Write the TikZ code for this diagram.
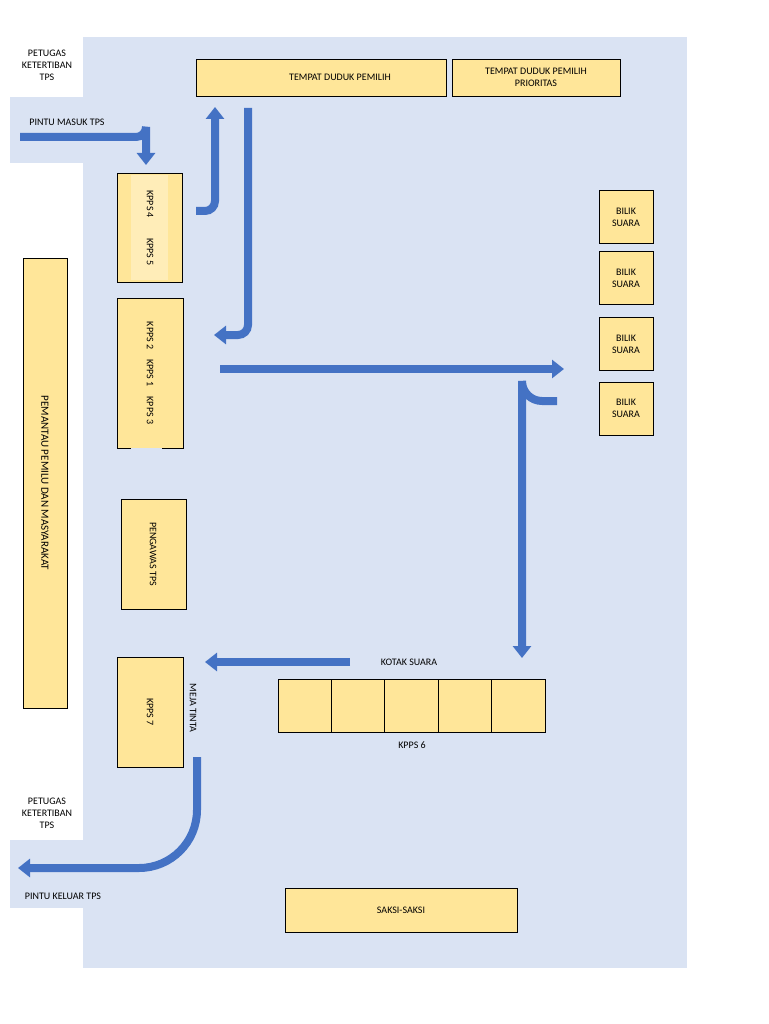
\documentclass[tikz,border=0pt]{standalone}
\usepackage{fontspec}
\setmainfont{Carlito}
\usetikzlibrary{arrows.meta}
\definecolor{bgb}{HTML}{DAE3F3}
\definecolor{boxy}{HTML}{FFE699}
\definecolor{arr}{HTML}{4472C4}
\begin{document}
\begin{tikzpicture}[x=1pt,y=-1pt,
 box/.style={draw=black,fill=boxy,line width=0.8pt},
 lbl/.style={font=\fontsize{10}{12}\selectfont,align=center},
 blu/.style={line width=8pt,color=arr,-{Triangle[length=12pt,width=18pt]}},
 vt/.style={lbl,rotate=-90}]
\useasboundingbox (0,0) rectangle (768,1024);
\fill[white] (0,0) rectangle (768,1024);
\fill[bgb] (83,37) rectangle (687,968);
\fill[bgb] (10,97) rectangle (83,163);
\fill[bgb] (10,840) rectangle (83,908);
% boxes
\node[box,minimum width=250pt,minimum height=37pt] (tdp) at (321,77.5) {};
\node[lbl] at (340,77) {TEMPAT DUDUK PEMILIH};
\node[box,minimum width=168pt,minimum height=37pt,lbl] (tdpp) at (536,77.5) {TEMPAT DUDUK PEMILIH\\PRIORITAS};
\node[box,minimum width=65pt,minimum height=109pt] (k45) at (149.5,227.5) {};
\fill[boxy!70!white] (131,175) rectangle (168,280);
\node[vt] at (150,228) {KPPS 4\qquad KPPS 5};
\node[box,minimum width=66pt,minimum height=150pt] (k213) at (150,373) {};
\fill[bgb] (131,448) rectangle (162,466);
\node[vt] at (150,373) {KPPS 2\quad KPPS 1\quad KPPS 3};
\fill[bgb] (131,490) rectangle (162,499);
\node[box,minimum width=65pt,minimum height=110pt] (pw) at (153.5,554) {};
\node[vt] at (153,554) {PENGAWAS TPS};
\node[box,minimum width=66pt,minimum height=110pt] (k7) at (150,712) {};
\node[vt] at (150,712) {KPPS 7};
\fill[bgb] (184,660) rectangle (202,757);
\node[vt] (mt) at (193,708) {MEJA TINTA};
\node[box,minimum width=44pt,minimum height=450pt] (pm) at (45,483) {};
\node[vt,font=\fontsize{11}{13}\selectfont] at (45,483) {PEMANTAU PEMILU DAN MASYARAKAT};
\foreach \y/\n in {217/b1,278/b2,344/b3,408.5/b4}
  \node[box,minimum width=54pt,minimum height=53pt,lbl] (\n) at (626,\y) {BILIK\\SUARA};
\foreach \i in {0,...,4}
  \node[box,minimum width=53.4pt,minimum height=53pt] (c\i) at (304.7+53.4*\i,705.5) {};
\node[box,minimum width=232pt,minimum height=44pt,lbl] (sk) at (401,910) {SAKSI-SAKSI};
% labels
\node[lbl] (pt1) at (47,65) {PETUGAS\\KETERTIBAN\\TPS};
\node[lbl] (pm1) at (67,122) {PINTU MASUK TPS};
\node[lbl] (ks) at (409,662) {KOTAK SUARA};
\node[lbl] (k6) at (412,745) {KPPS 6};
\node[lbl] (pt2) at (47,813) {PETUGAS\\KETERTIBAN\\TPS};
\node[lbl] (pk) at (63,896) {PINTU KELUAR TPS};
% arrows
\draw[blu] (20,137) -- (136,137) arc[start angle=90,end angle=0,radius=10] -- (146,165);
\draw[blu] (196,211) -- (205,211) arc[start angle=90,end angle=0,radius=10] -- (215,107);
\draw[blu] (248,108) -- (248,325) arc[start angle=0,end angle=90,radius=10] -- (214,335);
\draw[blu] (220,369) -- (564,369);
\draw[blu] (557,401) -- (542,401) arc[start angle=90,end angle=180,radius=20] -- (522,658);
\draw[blu] (350,662) -- (205,662);
\draw[blu] (197,757) -- (197,810) arc[start angle=0,end angle=90,radius=58] -- (18,868);
\end{tikzpicture}
\end{document}
